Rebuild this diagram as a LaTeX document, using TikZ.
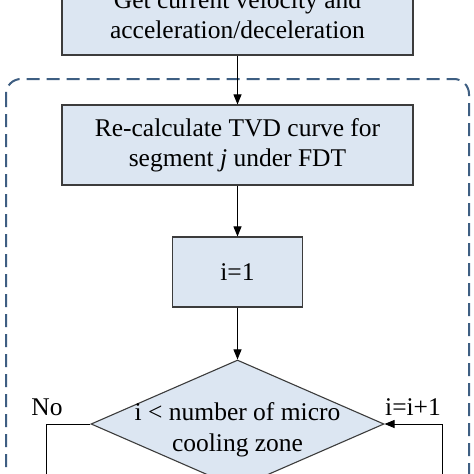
\documentclass[tikz,border=0pt]{standalone}
\usepackage{fontspec}
\setmainfont{Liberation Serif}
\usetikzlibrary{arrows.meta,shapes.geometric}
\definecolor{boxfill}{RGB}{220,230,242}
\definecolor{boxline}{RGB}{60,60,60}
\definecolor{dashblue}{RGB}{62,94,130}
\tikzset{
  proc/.style={draw=boxline, fill=boxfill, line width=1.1pt, inner sep=0pt, align=center,
    font=\fontsize{25.5}{30}\selectfont},
  cond/.style={draw=boxline, fill=boxfill, line width=1.1pt, shape=diamond, inner sep=0pt},
  lbl/.style={inner sep=0pt, align=center, font=\fontsize{25.5}{31}\selectfont},
  arr/.style={draw=black, line width=0.9pt, -{Triangle[width=8pt,length=10pt]}},
  conn/.style={draw=black, line width=0.9pt},
  region/.style={draw=dashblue, line width=2pt, dash pattern=on 13pt off 7pt, rounded corners=15pt}
}
\begin{document}
\begin{tikzpicture}[x=1pt,y=-1pt]
\clip (0,0) rectangle (474,474);
\fill[white] (0,0) rectangle (474,474);
\draw[region] (6,79) rectangle (469,540);
\node[proc, minimum width=351pt, minimum height=80pt] (get) at (237.5,15) {Get current velocity and\\acceleration/deceleration};
\node[proc, minimum width=351pt, minimum height=80pt] (recalc) at (237.5,145) {Re-calculate TVD curve for\\segment \textit{j} under FDT};
\node[proc, minimum width=130pt, minimum height=70pt] (init) at (237.5,272) {i=1};
\node[cond, minimum width=293pt, minimum height=128pt] (dec) at (237.5,424) {};
\node[lbl] (dectext) at (237.5,430) {i < number of micro\\cooling zone};
\node[lbl] (no) at (47,407) {No};
\node[lbl] (inc) at (413,407) {i=i+1};
\coordinate (noend) at (46,500);
\coordinate (incend) at (442,500);
\draw[arr] (get) -- (recalc);
\draw[arr] (recalc) -- (init);
\draw[arr] (init) -- (dec.north);
\draw[conn] (dec.west) -| (noend);
\draw[arr] (incend) |- (dec.east);
\end{tikzpicture}
\end{document}
